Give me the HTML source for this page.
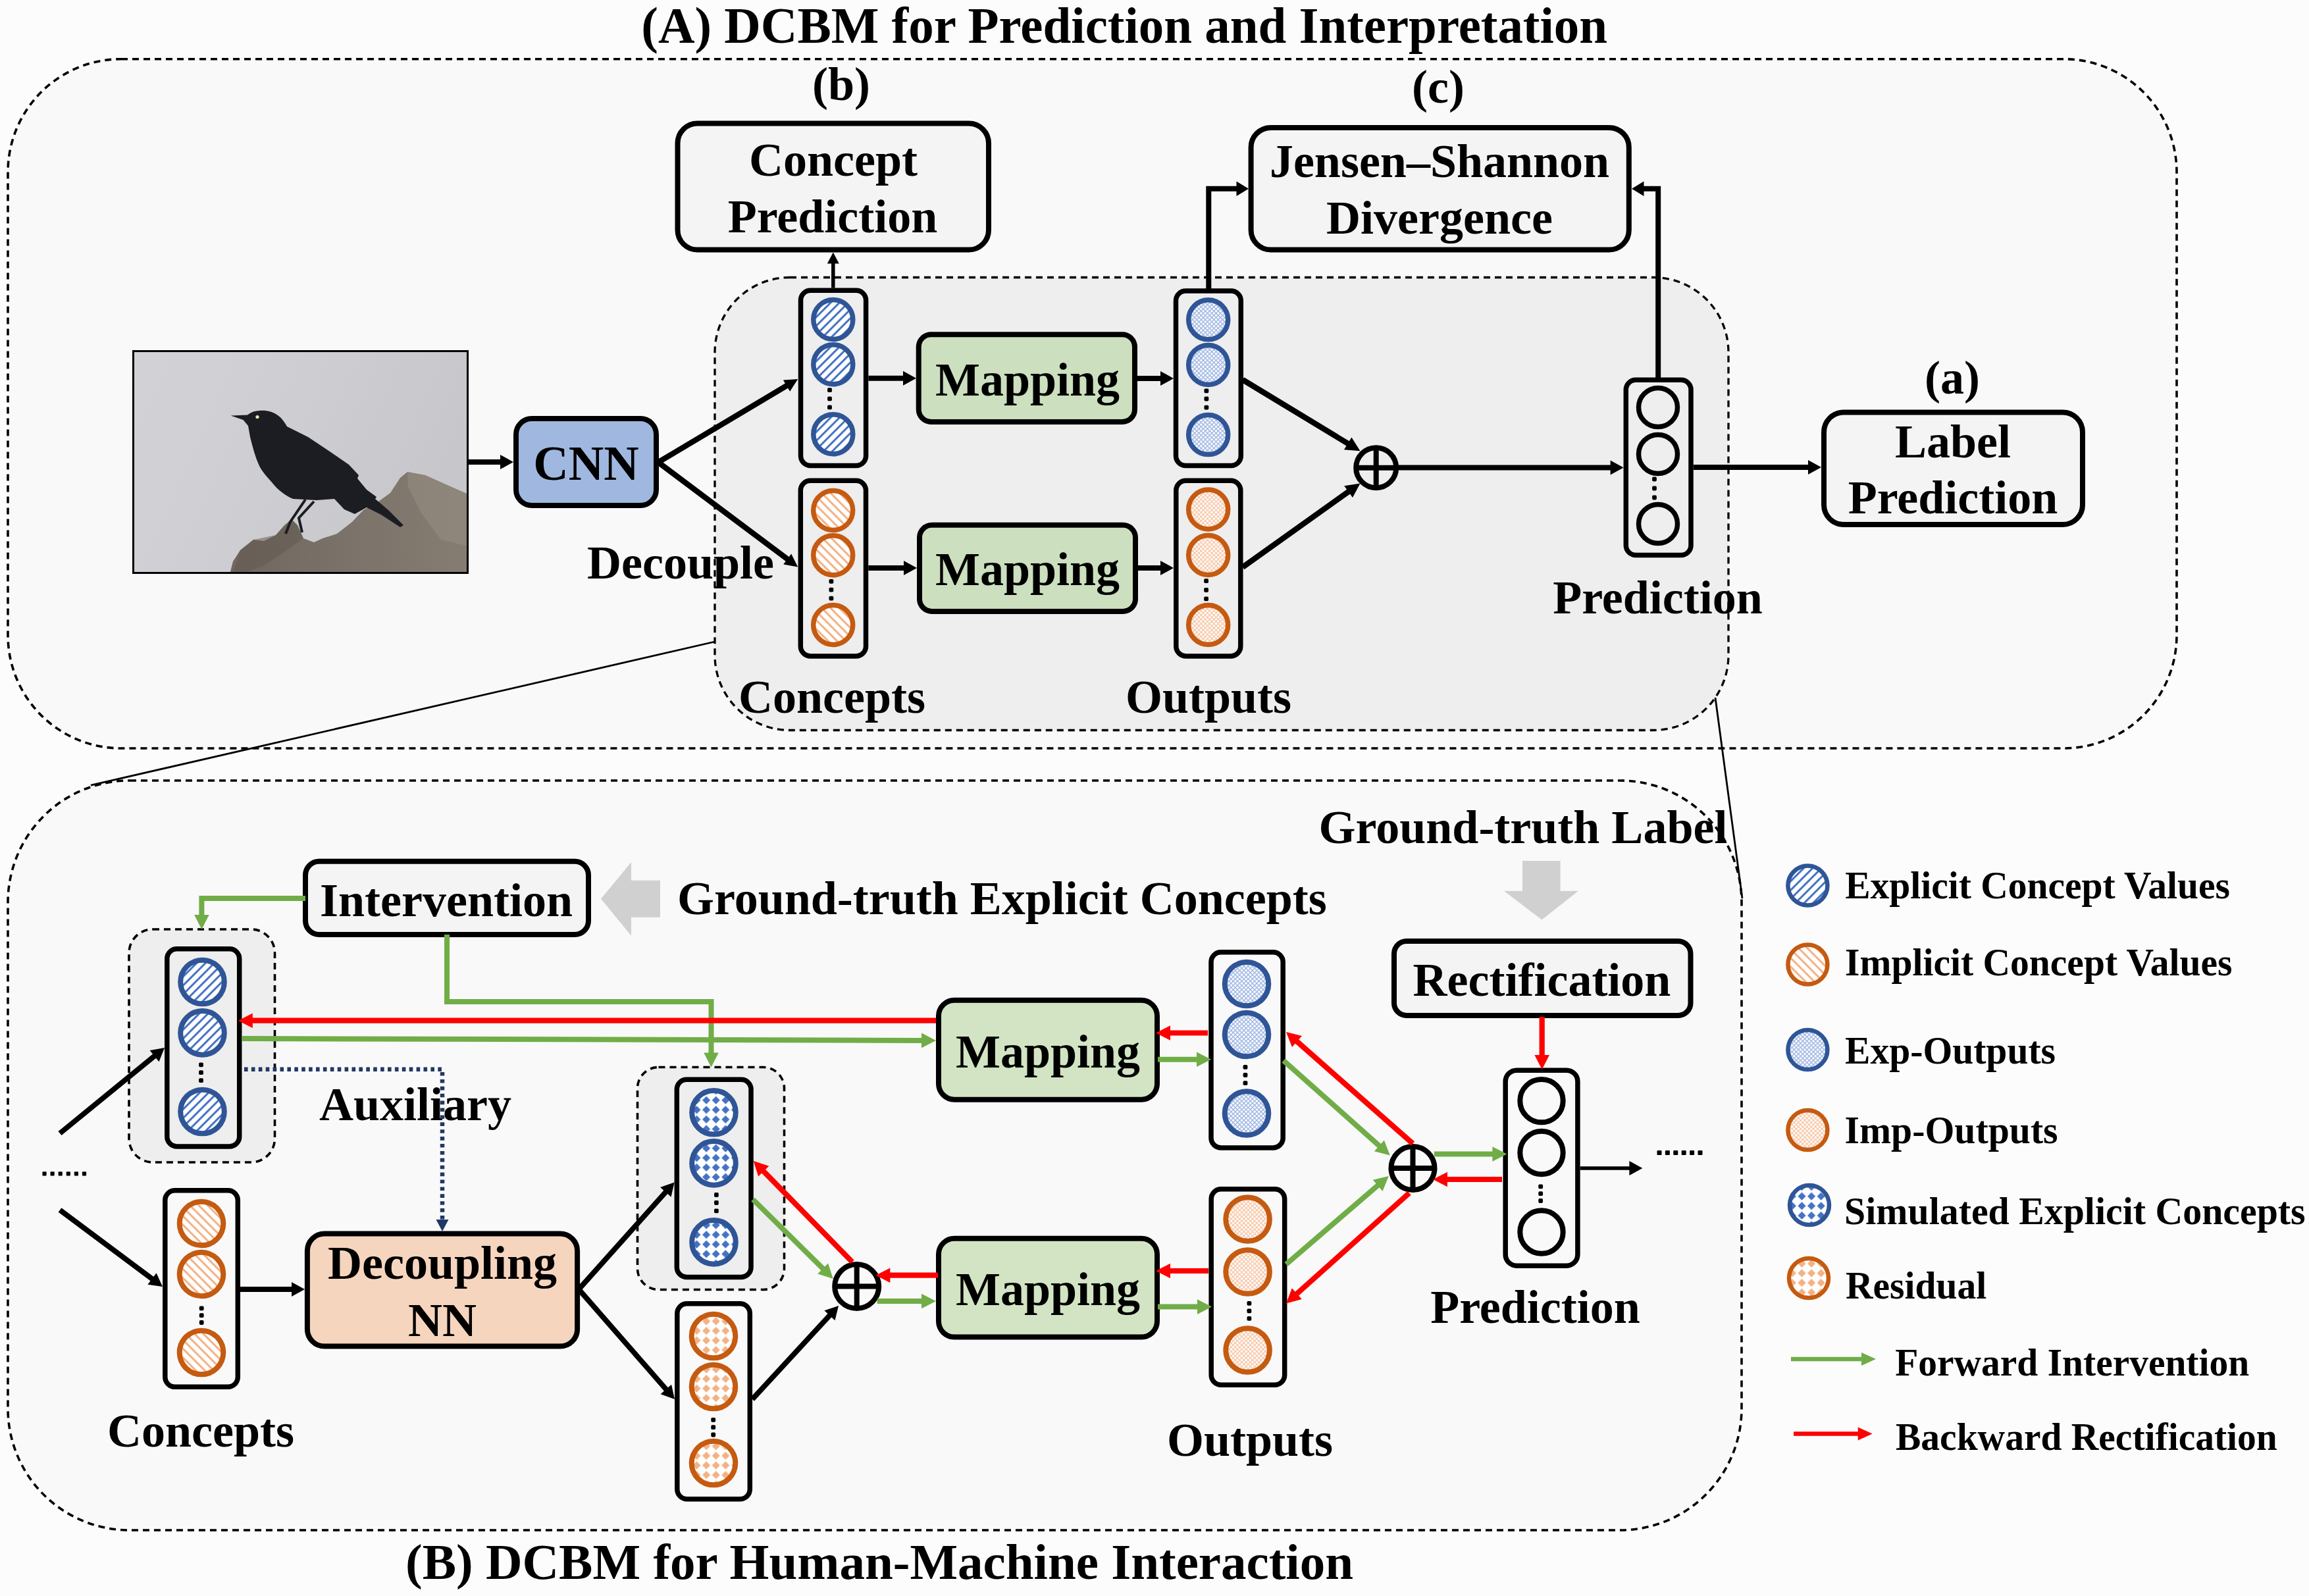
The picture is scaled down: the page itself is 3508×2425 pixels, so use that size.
<!DOCTYPE html>
<html><head><meta charset="utf-8"><style>
html,body{margin:0;padding:0;width:3508px;height:2425px;overflow:hidden;background:#fcfcfc}
text{font-family:"Liberation Serif",serif}
</style></head><body>
<svg width="3508" height="2425" viewBox="0 0 3508 2425" style="display:block;font-family:'Liberation Serif',serif">
<defs>
 <pattern id="hatchB" patternUnits="userSpaceOnUse" width="9.5" height="9.5" patternTransform="rotate(45)">
  <rect width="9.5" height="9.5" fill="#fff"/><rect x="0" y="0" width="3" height="9.5" fill="#4472c4"/>
 </pattern>
 <pattern id="hatchO" patternUnits="userSpaceOnUse" width="9.5" height="9.5" patternTransform="rotate(-45)">
  <rect width="9.5" height="9.5" fill="#fff"/><rect x="0" y="0" width="3" height="9.5" fill="#f4b183"/>
 </pattern>
 <pattern id="crossB" patternUnits="userSpaceOnUse" width="4.6" height="4.6" patternTransform="rotate(45)">
  <rect width="4.6" height="4.6" fill="#fff"/><rect x="0" y="0" width="1.4" height="4.6" fill="#9db5e2"/><rect x="0" y="0" width="4.6" height="1.4" fill="#9db5e2"/>
 </pattern>
 <pattern id="crossO" patternUnits="userSpaceOnUse" width="4.6" height="4.6" patternTransform="rotate(45)">
  <rect width="4.6" height="4.6" fill="#fff"/><rect x="0" y="0" width="1.4" height="4.6" fill="#f6c6a6"/><rect x="0" y="0" width="4.6" height="1.4" fill="#f6c6a6"/>
 </pattern>
 <pattern id="diaB" patternUnits="userSpaceOnUse" width="14.6" height="14.6">
  <rect width="14.6" height="14.6" fill="#fff"/><polygon points="7.3,1.2 13.4,7.3 7.3,13.4 1.2,7.3" fill="#4472c4"/>
 </pattern>
 <pattern id="diaO" patternUnits="userSpaceOnUse" width="14.6" height="14.6">
  <rect width="14.6" height="14.6" fill="#fff"/><polygon points="7.3,1.2 13.4,7.3 7.3,13.4 1.2,7.3" fill="#f4b183"/>
 </pattern>
 <linearGradient id="sky" x1="0" y1="0" x2="1" y2="0.3">
  <stop offset="0" stop-color="#d3d2d7"/><stop offset="0.6" stop-color="#cdcdd1"/><stop offset="1" stop-color="#c7c7cb"/>
 </linearGradient>
 <linearGradient id="wood" x1="0" y1="0" x2="1" y2="0">
  <stop offset="0" stop-color="#6f665e"/><stop offset="0.5" stop-color="#7b7269"/><stop offset="1" stop-color="#857c72"/>
 </linearGradient>
</defs>

<rect x="0" y="0" width="3508" height="2425" fill="#fcfcfc"/>
<text x="974.3" y="65.0" font-size="78" font-weight="bold" textLength="1467.8" lengthAdjust="spacingAndGlyphs">(A) DCBM for Prediction and Interpretation</text>
<rect x="12.0" y="89.7" width="3295.0" height="1047.3" rx="172" fill="#f9f9f9" stroke="#000" stroke-width="3.6" stroke-dasharray="10 7"/>
<rect x="12.0" y="1186.0" width="2634.0" height="1139.0" rx="185" fill="#f9f9f9" stroke="#000" stroke-width="3.6" stroke-dasharray="10 7"/>
<rect x="1086.0" y="421.5" width="1540.0" height="688.0" rx="114" fill="#eeeeee" stroke="#000" stroke-width="3.3" stroke-dasharray="10 7"/>
<line x1="1086" y1="975" x2="138" y2="1193.2" stroke="#000" stroke-width="2.8"/>
<line x1="2606" y1="1060" x2="2647" y2="1365" stroke="#000" stroke-width="2.8"/>
<g transform="translate(200,530)">
<rect x="2" y="3" width="509" height="338" fill="url(#sky)"/>
<polygon points="149.4,341 154,323 165,306 185,290 201,292 219,283 232,268 243,259 252,268 261,288 277,294 290,288 312,281 335,263 352,245 375,232 393,219 408,196 419,187 446,192 475,205 509,220 511,341" fill="url(#wood)"/>
<polygon points="419,187 446,192 475,205 509,220 511,300 470,290 440,250 420,210" fill="#978e84" opacity="0.55"/>
<polygon points="185,290 219,283 243,259 252,268 261,288 230,310 200,330 170,341 154,341 165,306" fill="#5f5750" opacity="0.5"/>
<path d="M150.6,101.5 L176,100.4 C182,96 188,94 194,94 C204,93 214,95 222,101 C228,105 232,111 236,118 L268,134 L301,156 L330,176 L345,192 L343,197 L357,214 L372,225 L370,228 L390,245 L413,268 L408,271 L379,252 L357,241 L339,251 L323,244 L308,228 L281,230 L245,228 C232,222 222,214 214,204 C205,194 198,186 194,178 C188,165 184,150 180,134 L177,117 L169.5,108 Z" fill="#1c1d23"/>
<path d="M264,229 L241,263 L234,281 M277,232 L254,257 L259,279" stroke="#1c1d23" stroke-width="4" fill="none"/>
<circle cx="191" cy="103.5" r="2.6" fill="#e8e6b8"/>
</g>
<rect x="202.5" y="533.5" width="508" height="337" fill="none" stroke="#000" stroke-width="3"/>
<line x1="711.0" y1="702.0" x2="762.0" y2="702.0" stroke="#000" stroke-width="8"/>
<polygon points="780.0,702.0 760.0,713.0 760.0,691.0" fill="#000"/>
<rect x="784.0" y="636.0" width="213.0" height="132.0" rx="24" fill="#a0b8e0" stroke="#000" stroke-width="8"/>
<text x="890.5" y="729.0" font-size="74" text-anchor="middle" font-weight="bold">CNN</text>
<line x1="1000.0" y1="702.4" x2="1196.7" y2="585.2" stroke="#000" stroke-width="8.5"/>
<polygon points="1212.2,576.0 1200.1,594.8 1189.9,577.6" fill="#000"/>
<line x1="1000.0" y1="702.4" x2="1197.8" y2="850.7" stroke="#000" stroke-width="8.5"/>
<polygon points="1212.2,861.5 1190.2,857.5 1202.2,841.5" fill="#000"/>
<text x="892.0" y="879.0" font-size="72" text-anchor="start" font-weight="bold">Decouple</text>
<rect x="1029.5" y="187.6" width="472.5" height="191.9" rx="30" fill="#f4f4f4" stroke="#000" stroke-width="8"/>
<text x="1266.0" y="267.0" font-size="72" text-anchor="middle" font-weight="bold">Concept</text>
<text x="1265.0" y="353.2" font-size="72" text-anchor="middle" font-weight="bold">Prediction</text>
<text x="1278.0" y="151.5" font-size="72" text-anchor="middle" font-weight="bold">(b)</text>
<line x1="1265.8" y1="437.5" x2="1265.8" y2="398.5" stroke="#000" stroke-width="5.5"/>
<polygon points="1265.8,383.5 1274.8,400.5 1256.8,400.5" fill="#000"/>
<rect x="1900.6" y="193.9" width="574.2" height="185.6" rx="30" fill="#f4f4f4" stroke="#000" stroke-width="8"/>
<text x="2187.0" y="268.6" font-size="72" text-anchor="middle" font-weight="bold">Jensen–Shannon</text>
<text x="2187.0" y="354.5" font-size="72" text-anchor="middle" font-weight="bold">Divergence</text>
<text x="2185.0" y="156.0" font-size="72" text-anchor="middle" font-weight="bold">(c)</text>
<polyline points="1836.3,438.0 1836.3,286.7 1880.5,286.7" fill="none" stroke="#000" stroke-width="8" stroke-linejoin="miter" stroke-linecap="square"/>
<polygon points="1897.0,286.7 1878.5,298.0 1878.5,275.4" fill="#000"/>
<polyline points="2519.2,573.5 2519.2,286.7 2495.5,286.7" fill="none" stroke="#000" stroke-width="8" stroke-linejoin="miter" stroke-linecap="square"/>
<polygon points="2479.0,286.7 2497.5,275.4 2497.5,298.0" fill="#000"/>
<rect x="1216.5" y="441.2" width="99.1" height="266.4" rx="15" fill="none" stroke="#000" stroke-width="7.5"/>
<circle cx="1265.8" cy="485.5" r="30.0" fill="url(#hatchB)" stroke="#2f5597" stroke-width="7.5"/>
<circle cx="1265.8" cy="553.7" r="30.0" fill="url(#hatchB)" stroke="#2f5597" stroke-width="7.5"/>
<circle cx="1265.8" cy="659.7" r="30.0" fill="url(#hatchB)" stroke="#2f5597" stroke-width="7.5"/>
<rect x="1257.1" y="589.2" width="6.8" height="6.8" rx="1.8" fill="#000"/>
<rect x="1257.1" y="602.4" width="6.8" height="6.8" rx="1.8" fill="#000"/>
<rect x="1257.1" y="615.5" width="6.8" height="6.8" rx="1.8" fill="#000"/>
<rect x="1216.3" y="730.2" width="99.2" height="266.7" rx="15" fill="none" stroke="#000" stroke-width="7.5"/>
<circle cx="1265.7" cy="775.5" r="30.0" fill="url(#hatchO)" stroke="#c55a11" stroke-width="7.5"/>
<circle cx="1265.7" cy="843.7" r="30.0" fill="url(#hatchO)" stroke="#c55a11" stroke-width="7.5"/>
<circle cx="1265.7" cy="949.5" r="30.0" fill="url(#hatchO)" stroke="#c55a11" stroke-width="7.5"/>
<rect x="1259.5" y="879.9" width="6.8" height="6.8" rx="1.8" fill="#000"/>
<rect x="1259.5" y="892.8" width="6.8" height="6.8" rx="1.8" fill="#000"/>
<rect x="1259.5" y="905.8" width="6.8" height="6.8" rx="1.8" fill="#000"/>
<rect x="1786.5" y="441.9" width="98.8" height="265.7" rx="15" fill="none" stroke="#000" stroke-width="7.5"/>
<circle cx="1835.7" cy="485.8" r="30.0" fill="url(#crossB)" stroke="#2f5597" stroke-width="7.5"/>
<circle cx="1835.7" cy="554.4" r="30.0" fill="url(#crossB)" stroke="#2f5597" stroke-width="7.5"/>
<circle cx="1835.7" cy="660.6" r="30.0" fill="url(#crossB)" stroke="#2f5597" stroke-width="7.5"/>
<rect x="1829.5" y="590.5" width="6.8" height="6.8" rx="1.8" fill="#000"/>
<rect x="1829.5" y="602.6" width="6.8" height="6.8" rx="1.8" fill="#000"/>
<rect x="1829.5" y="615.8" width="6.8" height="6.8" rx="1.8" fill="#000"/>
<rect x="1786.8" y="730.2" width="98.0" height="266.7" rx="15" fill="none" stroke="#000" stroke-width="7.5"/>
<circle cx="1835.7" cy="774.0" r="30.0" fill="url(#crossO)" stroke="#c55a11" stroke-width="7.5"/>
<circle cx="1835.7" cy="843.5" r="30.0" fill="url(#crossO)" stroke="#c55a11" stroke-width="7.5"/>
<circle cx="1835.7" cy="949.5" r="30.0" fill="url(#crossO)" stroke="#c55a11" stroke-width="7.5"/>
<rect x="1829.2" y="879.3" width="6.8" height="6.8" rx="1.8" fill="#000"/>
<rect x="1829.2" y="893.1" width="6.8" height="6.8" rx="1.8" fill="#000"/>
<rect x="1829.2" y="906.4" width="6.8" height="6.8" rx="1.8" fill="#000"/>
<rect x="1395.7" y="508.2" width="328.3" height="132.8" rx="19" fill="#ccdfbf" stroke="#000" stroke-width="8"/>
<text x="1561.0" y="601.0" font-size="72" text-anchor="middle" font-weight="bold">Mapping</text>
<rect x="1397.0" y="797.8" width="328.0" height="131.2" rx="19" fill="#ccdfbf" stroke="#000" stroke-width="8"/>
<text x="1561.0" y="889.0" font-size="72" text-anchor="middle" font-weight="bold">Mapping</text>
<line x1="1319.4" y1="574.7" x2="1374.0" y2="574.7" stroke="#000" stroke-width="8"/>
<polygon points="1392.0,574.7 1372.0,585.7 1372.0,563.7" fill="#000"/>
<line x1="1319.3" y1="863.0" x2="1375.0" y2="863.0" stroke="#000" stroke-width="8"/>
<polygon points="1393.0,863.0 1373.0,874.0 1373.0,852.0" fill="#000"/>
<line x1="1728.0" y1="575.0" x2="1765.0" y2="575.0" stroke="#000" stroke-width="8"/>
<polygon points="1783.0,575.0 1763.0,586.0 1763.0,564.0" fill="#000"/>
<line x1="1729.0" y1="863.0" x2="1765.0" y2="863.0" stroke="#000" stroke-width="8"/>
<polygon points="1783.0,863.0 1763.0,874.0 1763.0,852.0" fill="#000"/>
<circle cx="2090.7" cy="710.7" r="30.5" fill="none" stroke="#000" stroke-width="8"/>
<line x1="2060.2" y1="710.7" x2="2121.2" y2="710.7" stroke="#000" stroke-width="8"/>
<line x1="2090.7" y1="680.2" x2="2090.7" y2="741.2" stroke="#000" stroke-width="8"/>
<line x1="1888.0" y1="577.0" x2="2049.4" y2="674.9" stroke="#000" stroke-width="8.5"/>
<polygon points="2066.5,685.3 2042.0,683.3 2053.4,664.5" fill="#000"/>
<line x1="1888.0" y1="861.7" x2="2050.2" y2="746.0" stroke="#000" stroke-width="8.5"/>
<polygon points="2066.5,734.4 2055.0,756.1 2042.2,738.2" fill="#000"/>
<line x1="2125.0" y1="710.5" x2="2448.6" y2="710.5" stroke="#000" stroke-width="8"/>
<polygon points="2466.6,710.5 2446.6,721.5 2446.6,699.5" fill="#000"/>
<rect x="2470.3" y="577.2" width="98.7" height="266.3" rx="15" fill="none" stroke="#000" stroke-width="7.5"/>
<circle cx="2519.0" cy="619.0" r="29.5" fill="none" stroke="#000" stroke-width="7.5"/>
<circle cx="2519.0" cy="690.0" r="29.5" fill="none" stroke="#000" stroke-width="7.5"/>
<circle cx="2519.0" cy="796.0" r="29.5" fill="none" stroke="#000" stroke-width="7.5"/>
<rect x="2510.1" y="724.6" width="6.8" height="6.8" rx="1.8" fill="#000"/>
<rect x="2510.1" y="738.6" width="6.8" height="6.8" rx="1.8" fill="#000"/>
<rect x="2510.1" y="752.6" width="6.8" height="6.8" rx="1.8" fill="#000"/>
<line x1="2572.8" y1="710.0" x2="2749.0" y2="710.0" stroke="#000" stroke-width="8"/>
<polygon points="2767.0,710.0 2747.0,721.0 2747.0,699.0" fill="#000"/>
<rect x="2771.0" y="626.5" width="393.0" height="170.5" rx="30" fill="#f4f4f4" stroke="#000" stroke-width="8"/>
<text x="2967.0" y="694.6" font-size="72" text-anchor="middle" font-weight="bold">Label</text>
<text x="2967.0" y="780.2" font-size="72" text-anchor="middle" font-weight="bold">Prediction</text>
<text x="2966.0" y="598.0" font-size="72" text-anchor="middle" font-weight="bold">(a)</text>
<text x="1122.0" y="1082.6" font-size="72" text-anchor="start" font-weight="bold">Concepts</text>
<text x="1710.0" y="1082.6" font-size="72" text-anchor="start" font-weight="bold">Outputs</text>
<text x="2518.5" y="931.8" font-size="72" text-anchor="middle" font-weight="bold">Prediction</text>
<text x="616.0" y="2399.3" font-size="77" text-anchor="start" font-weight="bold">(B) DCBM for Human-Machine Interaction</text>
<text x="2003.6" y="1280.6" font-size="72" text-anchor="start" font-weight="bold">Ground-truth Label</text>
<polygon points="2313,1308 2370.6,1308 2370.6,1353.7 2398,1353.7 2342.4,1397.5 2285,1353.7 2313,1353.7" fill="#d0d0d0"/>
<rect x="464.0" y="1308.7" width="430.0" height="111.3" rx="21" fill="#f4f4f4" stroke="#000" stroke-width="8"/>
<text x="678.0" y="1391.7" font-size="72" text-anchor="middle" font-weight="bold">Intervention</text>
<polygon points="913,1365.7 959,1310 959,1337.8 1003,1337.8 1003,1393.7 959,1393.7 959,1421.7" fill="#d0d0d0"/>
<text x="1029.0" y="1388.5" font-size="72" text-anchor="start" font-weight="bold">Ground-truth Explicit Concepts</text>
<rect x="196.0" y="1412.0" width="221.5" height="354.0" rx="36" fill="#eeeeee" stroke="#000" stroke-width="3.6" stroke-dasharray="10 7"/>
<rect x="968.5" y="1621.5" width="223.0" height="338.0" rx="32" fill="#eeeeee" stroke="#000" stroke-width="3.6" stroke-dasharray="10 7"/>
<rect x="253.8" y="1441.8" width="109.9" height="300.1" rx="15" fill="none" stroke="#000" stroke-width="7.5"/>
<circle cx="307.5" cy="1492.0" r="33.3" fill="url(#hatchB)" stroke="#2f5597" stroke-width="8"/>
<circle cx="307.5" cy="1569.4" r="33.3" fill="url(#hatchB)" stroke="#2f5597" stroke-width="8"/>
<circle cx="307.5" cy="1689.0" r="33.3" fill="url(#hatchB)" stroke="#2f5597" stroke-width="8"/>
<rect x="302.1" y="1614.4" width="6.8" height="6.8" rx="1.8" fill="#000"/>
<rect x="302.1" y="1626.3" width="6.8" height="6.8" rx="1.8" fill="#000"/>
<rect x="302.1" y="1638.2" width="6.8" height="6.8" rx="1.8" fill="#000"/>
<rect x="250.8" y="1808.8" width="110.5" height="298.5" rx="15" fill="none" stroke="#000" stroke-width="7.5"/>
<circle cx="306.0" cy="1859.0" r="33.3" fill="url(#hatchO)" stroke="#c55a11" stroke-width="8"/>
<circle cx="306.0" cy="1936.0" r="33.3" fill="url(#hatchO)" stroke="#c55a11" stroke-width="8"/>
<circle cx="306.0" cy="2055.0" r="33.3" fill="url(#hatchO)" stroke="#c55a11" stroke-width="8"/>
<rect x="302.8" y="1984.5" width="6.8" height="6.8" rx="1.8" fill="#000"/>
<rect x="302.8" y="1995.3" width="6.8" height="6.8" rx="1.8" fill="#000"/>
<rect x="302.8" y="2006.1" width="6.8" height="6.8" rx="1.8" fill="#000"/>
<rect x="1028.3" y="1640.2" width="112.7" height="300.2" rx="15" fill="none" stroke="#000" stroke-width="7.5"/>
<circle cx="1084.5" cy="1690.3" r="33.3" fill="url(#diaB)" stroke="#2f5597" stroke-width="8"/>
<circle cx="1084.5" cy="1767.4" r="33.3" fill="url(#diaB)" stroke="#2f5597" stroke-width="8"/>
<circle cx="1084.5" cy="1887.4" r="33.3" fill="url(#diaB)" stroke="#2f5597" stroke-width="8"/>
<rect x="1085.0" y="1812.1" width="6.8" height="6.8" rx="1.8" fill="#000"/>
<rect x="1085.0" y="1824.1" width="6.8" height="6.8" rx="1.8" fill="#000"/>
<rect x="1085.0" y="1836.5" width="6.8" height="6.8" rx="1.8" fill="#000"/>
<rect x="1028.8" y="1980.8" width="110.5" height="297.0" rx="15" fill="none" stroke="#000" stroke-width="7.5"/>
<circle cx="1084.0" cy="2030.0" r="33.3" fill="url(#diaO)" stroke="#c55a11" stroke-width="8"/>
<circle cx="1084.0" cy="2107.0" r="33.3" fill="url(#diaO)" stroke="#c55a11" stroke-width="8"/>
<circle cx="1084.0" cy="2223.0" r="33.3" fill="url(#diaO)" stroke="#c55a11" stroke-width="8"/>
<rect x="1080.3" y="2154.0" width="6.8" height="6.8" rx="1.8" fill="#000"/>
<rect x="1080.3" y="2165.3" width="6.8" height="6.8" rx="1.8" fill="#000"/>
<rect x="1080.3" y="2176.6" width="6.8" height="6.8" rx="1.8" fill="#000"/>
<rect x="1840.0" y="1446.7" width="109.2" height="297.2" rx="15" fill="none" stroke="#000" stroke-width="7.5"/>
<circle cx="1894.0" cy="1495.0" r="33.3" fill="url(#crossB)" stroke="#2f5597" stroke-width="8"/>
<circle cx="1894.0" cy="1572.0" r="33.3" fill="url(#crossB)" stroke="#2f5597" stroke-width="8"/>
<circle cx="1894.0" cy="1691.5" r="33.3" fill="url(#crossB)" stroke="#2f5597" stroke-width="8"/>
<rect x="1888.6" y="1617.9" width="6.8" height="6.8" rx="1.8" fill="#000"/>
<rect x="1888.6" y="1630.1" width="6.8" height="6.8" rx="1.8" fill="#000"/>
<rect x="1888.6" y="1642.3" width="6.8" height="6.8" rx="1.8" fill="#000"/>
<rect x="1840.2" y="1806.8" width="111.5" height="297.5" rx="15" fill="none" stroke="#000" stroke-width="7.5"/>
<circle cx="1895.6" cy="1852.5" r="33.3" fill="url(#crossO)" stroke="#c55a11" stroke-width="8"/>
<circle cx="1895.6" cy="1932.5" r="33.3" fill="url(#crossO)" stroke="#c55a11" stroke-width="8"/>
<circle cx="1895.6" cy="2051.5" r="33.3" fill="url(#crossO)" stroke="#c55a11" stroke-width="8"/>
<rect x="1894.5" y="1977.0" width="6.8" height="6.8" rx="1.8" fill="#000"/>
<rect x="1894.5" y="1988.4" width="6.8" height="6.8" rx="1.8" fill="#000"/>
<rect x="1894.5" y="1999.9" width="6.8" height="6.8" rx="1.8" fill="#000"/>
<rect x="2287.2" y="1626.2" width="109.7" height="297.0" rx="17" fill="none" stroke="#000" stroke-width="7.5"/>
<circle cx="2342.0" cy="1672.6" r="32.7" fill="none" stroke="#000" stroke-width="8"/>
<circle cx="2342.0" cy="1751.5" r="32.7" fill="none" stroke="#000" stroke-width="8"/>
<circle cx="2342.0" cy="1872.0" r="32.7" fill="none" stroke="#000" stroke-width="8"/>
<rect x="2337.3" y="1799.4" width="6.8" height="6.8" rx="1.8" fill="#000"/>
<rect x="2337.3" y="1810.2" width="6.8" height="6.8" rx="1.8" fill="#000"/>
<rect x="2337.3" y="1821.1" width="6.8" height="6.8" rx="1.8" fill="#000"/>
<rect x="466.9" y="1874.5" width="410.2" height="171.1" rx="26" fill="#f6d5be" stroke="#000" stroke-width="8"/>
<text x="672.0" y="1942.9" font-size="72" text-anchor="middle" font-weight="bold">Decoupling</text>
<text x="672.0" y="2029.6" font-size="72" text-anchor="middle" font-weight="bold">NN</text>
<rect x="1426.0" y="1519.7" width="332.0" height="151.0" rx="24" fill="#d2e4c4" stroke="#000" stroke-width="8"/>
<text x="1592.0" y="1622.0" font-size="72" text-anchor="middle" font-weight="bold">Mapping</text>
<rect x="1426.0" y="1881.7" width="332.0" height="149.9" rx="24" fill="#d2e4c4" stroke="#000" stroke-width="8"/>
<text x="1592.0" y="1983.0" font-size="72" text-anchor="middle" font-weight="bold">Mapping</text>
<rect x="2118.0" y="1430.0" width="450.5" height="113.0" rx="19" fill="#f4f4f4" stroke="#000" stroke-width="8"/>
<text x="2342.5" y="1512.7" font-size="72" text-anchor="middle" font-weight="bold">Rectification</text>
<circle cx="1301.7" cy="1954.6" r="33.5" fill="none" stroke="#000" stroke-width="8"/>
<line x1="1268.2" y1="1954.6" x2="1335.2" y2="1954.6" stroke="#000" stroke-width="8"/>
<line x1="1301.7" y1="1921.1" x2="1301.7" y2="1988.1" stroke="#000" stroke-width="8"/>
<circle cx="2146.5" cy="1775.0" r="33.0" fill="none" stroke="#000" stroke-width="8"/>
<line x1="2113.5" y1="1775.0" x2="2179.5" y2="1775.0" stroke="#000" stroke-width="8"/>
<line x1="2146.5" y1="1742.0" x2="2146.5" y2="1808.0" stroke="#000" stroke-width="8"/>
<text x="485.0" y="1702.0" font-size="72" text-anchor="start" font-weight="bold">Auxiliary</text>
<text x="305.0" y="2198.0" font-size="72" text-anchor="middle" font-weight="bold">Concepts</text>
<text x="1899.0" y="2211.5" font-size="72" text-anchor="middle" font-weight="bold">Outputs</text>
<text x="2332.5" y="2010.0" font-size="72" text-anchor="middle" font-weight="bold">Prediction</text>
<rect x="64.4" y="1780.2" width="6.2" height="6.2" rx="1" fill="#000"/>
<rect x="76.5" y="1780.2" width="6.2" height="6.2" rx="1" fill="#000"/>
<rect x="88.6" y="1780.2" width="6.2" height="6.2" rx="1" fill="#000"/>
<rect x="100.7" y="1780.2" width="6.2" height="6.2" rx="1" fill="#000"/>
<rect x="112.8" y="1780.2" width="6.2" height="6.2" rx="1" fill="#000"/>
<rect x="124.9" y="1780.2" width="6.2" height="6.2" rx="1" fill="#000"/>
<rect x="2517.5" y="1748.0" width="7" height="7" rx="1" fill="#000"/>
<rect x="2529.9" y="1748.0" width="7" height="7" rx="1" fill="#000"/>
<rect x="2542.3" y="1748.0" width="7" height="7" rx="1" fill="#000"/>
<rect x="2554.7" y="1748.0" width="7" height="7" rx="1" fill="#000"/>
<rect x="2567.1" y="1748.0" width="7" height="7" rx="1" fill="#000"/>
<rect x="2579.5" y="1748.0" width="7" height="7" rx="1" fill="#000"/>
<line x1="91.0" y1="1722.0" x2="236.1" y2="1603.4" stroke="#000" stroke-width="8"/>
<polygon points="250.0,1592.0 241.5,1613.2 227.6,1596.1" fill="#000"/>
<line x1="91.0" y1="1838.5" x2="232.6" y2="1944.2" stroke="#000" stroke-width="8"/>
<polygon points="247.0,1955.0 224.4,1951.8 237.6,1934.2" fill="#000"/>
<line x1="365.0" y1="1959.0" x2="445.0" y2="1959.0" stroke="#000" stroke-width="8"/>
<polygon points="463.0,1959.0 443.0,1970.0 443.0,1948.0" fill="#000"/>
<line x1="879.3" y1="1959.0" x2="1012.6" y2="1809.9" stroke="#000" stroke-width="8"/>
<polygon points="1024.6,1796.5 1019.5,1818.7 1003.1,1804.1" fill="#000"/>
<line x1="879.3" y1="1959.0" x2="1013.2" y2="2112.4" stroke="#000" stroke-width="8"/>
<polygon points="1025.0,2126.0 1003.6,2118.2 1020.1,2103.7" fill="#000"/>
<line x1="1143.0" y1="2126.0" x2="1261.8" y2="1997.2" stroke="#000" stroke-width="8"/>
<polygon points="1274.0,1984.0 1268.5,2006.2 1252.4,1991.2" fill="#000"/>
<line x1="2400.7" y1="1775.0" x2="2477.4" y2="1775.0" stroke="#000" stroke-width="5.5"/>
<polygon points="2495.4,1775.0 2475.4,1786.0 2475.4,1764.0" fill="#000"/>
<polyline points="460.0,1365.0 306.4,1365.0 306.4,1392.0" fill="none" stroke="#70ad47" stroke-width="8" stroke-linejoin="miter" stroke-linecap="square"/>
<polygon points="306.4,1412.0 295.1,1390.0 317.7,1390.0" fill="#70ad47"/>
<polyline points="679.0,1424.0 679.0,1522.0 1080.5,1522.0 1080.5,1601.5" fill="none" stroke="#70ad47" stroke-width="8" stroke-linejoin="miter" stroke-linecap="square"/>
<polygon points="1080.5,1621.5 1069.2,1599.5 1091.8,1599.5" fill="#70ad47"/>
<line x1="1422.0" y1="1550.7" x2="381.8" y2="1550.7" stroke="#ff0000" stroke-width="8.2"/>
<polygon points="361.8,1550.7 383.8,1539.4 383.8,1562.0" fill="#ff0000"/>
<line x1="367.4" y1="1578.0" x2="1402.0" y2="1580.9" stroke="#70ad47" stroke-width="8"/>
<polygon points="1422.0,1581.0 1400.0,1592.2 1400.0,1569.6" fill="#70ad47"/>
<polyline points="371.0,1624.8 672.0,1624.8 672.0,1855.0" fill="none" stroke="#203864" stroke-width="6.5" stroke-linejoin="miter" stroke-dasharray="5.6 5.3" stroke-linecap="butt"/>
<polygon points="672.0,1871.0 662.5,1853.0 681.5,1853.0" fill="#203864"/>
<line x1="1835.0" y1="1569.5" x2="1776.0" y2="1569.5" stroke="#ff0000" stroke-width="8.2"/>
<polygon points="1756.0,1569.5 1778.0,1558.2 1778.0,1580.8" fill="#ff0000"/>
<line x1="1759.0" y1="1609.7" x2="1820.0" y2="1609.7" stroke="#70ad47" stroke-width="8"/>
<polygon points="1840.0,1609.7 1818.0,1621.0 1818.0,1598.4" fill="#70ad47"/>
<line x1="1836.0" y1="1931.0" x2="1776.0" y2="1931.0" stroke="#ff0000" stroke-width="8.2"/>
<polygon points="1756.0,1931.0 1778.0,1919.7 1778.0,1942.3" fill="#ff0000"/>
<line x1="1759.0" y1="1985.6" x2="1821.0" y2="1985.6" stroke="#70ad47" stroke-width="8"/>
<polygon points="1841.0,1985.6 1819.0,1996.9 1819.0,1974.3" fill="#70ad47"/>
<line x1="1425.0" y1="1937.7" x2="1350.4" y2="1937.7" stroke="#ff0000" stroke-width="8.2"/>
<polygon points="1330.4,1937.7 1352.4,1926.4 1352.4,1949.0" fill="#ff0000"/>
<line x1="1332.7" y1="1977.0" x2="1402.0" y2="1977.0" stroke="#70ad47" stroke-width="8"/>
<polygon points="1422.0,1977.0 1400.0,1988.3 1400.0,1965.7" fill="#70ad47"/>
<line x1="1294.8" y1="1917.5" x2="1158.8" y2="1778.3" stroke="#ff0000" stroke-width="8.2"/>
<polygon points="1144.8,1764.0 1168.3,1771.8 1152.1,1787.6" fill="#ff0000"/>
<line x1="1144.0" y1="1822.5" x2="1251.6" y2="1928.9" stroke="#70ad47" stroke-width="8"/>
<polygon points="1265.8,1943.0 1242.2,1935.6 1258.1,1919.5" fill="#70ad47"/>
<line x1="2146.5" y1="1737.7" x2="1969.0" y2="1581.2" stroke="#ff0000" stroke-width="8.2"/>
<polygon points="1954.0,1568.0 1978.0,1574.1 1963.0,1591.0" fill="#ff0000"/>
<line x1="1950.0" y1="1611.4" x2="2096.9" y2="1742.2" stroke="#70ad47" stroke-width="8"/>
<polygon points="2111.8,1755.5 2087.9,1749.3 2102.9,1732.4" fill="#70ad47"/>
<line x1="1954.0" y1="1921.0" x2="2094.6" y2="1800.0" stroke="#70ad47" stroke-width="8"/>
<polygon points="2109.8,1787.0 2100.5,1809.9 2085.8,1792.8" fill="#70ad47"/>
<line x1="2141.0" y1="1812.7" x2="1968.9" y2="1967.0" stroke="#ff0000" stroke-width="8.2"/>
<polygon points="1954.0,1980.4 1962.8,1957.3 1977.9,1974.1" fill="#ff0000"/>
<line x1="2178.9" y1="1753.5" x2="2269.4" y2="1753.5" stroke="#70ad47" stroke-width="8"/>
<polygon points="2289.4,1753.5 2267.4,1764.8 2267.4,1742.2" fill="#70ad47"/>
<line x1="2282.0" y1="1792.0" x2="2197.0" y2="1792.0" stroke="#ff0000" stroke-width="8.2"/>
<polygon points="2177.0,1792.0 2199.0,1780.7 2199.0,1803.3" fill="#ff0000"/>
<line x1="2342.7" y1="1545.0" x2="2342.7" y2="1605.0" stroke="#ff0000" stroke-width="8.2"/>
<polygon points="2342.7,1625.0 2331.4,1603.0 2354.0,1603.0" fill="#ff0000"/>
<circle cx="2746.4" cy="1345.6" r="30.0" fill="url(#hatchB)" stroke="#2f5597" stroke-width="6.5"/>
<text x="2803.2" y="1365.0" font-size="60" font-weight="bold" textLength="584.8" lengthAdjust="spacingAndGlyphs">Explicit Concept Values</text>
<circle cx="2746.4" cy="1465.5" r="30.0" fill="url(#hatchO)" stroke="#c55a11" stroke-width="6.5"/>
<text x="2803.1" y="1481.5" font-size="60" font-weight="bold" textLength="588.3" lengthAdjust="spacingAndGlyphs">Implicit Concept Values</text>
<circle cx="2746.4" cy="1595.0" r="30.0" fill="url(#crossB)" stroke="#2f5597" stroke-width="6.5"/>
<text x="2803.0" y="1616.0" font-size="60" font-weight="bold" textLength="320.0" lengthAdjust="spacingAndGlyphs">Exp-Outputs</text>
<circle cx="2746.4" cy="1717.0" r="30.0" fill="url(#crossO)" stroke="#c55a11" stroke-width="6.5"/>
<text x="2802.5" y="1736.5" font-size="60" font-weight="bold" textLength="324.1" lengthAdjust="spacingAndGlyphs">Imp-Outputs</text>
<circle cx="2749.0" cy="1831.0" r="30.0" fill="url(#diaB)" stroke="#2f5597" stroke-width="6.5"/>
<text x="2802.1" y="1860.0" font-size="60" font-weight="bold" textLength="700.5" lengthAdjust="spacingAndGlyphs">Simulated Explicit Concepts</text>
<circle cx="2748.0" cy="1942.0" r="30.0" fill="url(#diaO)" stroke="#c55a11" stroke-width="6.5"/>
<text x="2804.0" y="1972.5" font-size="60" font-weight="bold" textLength="214.3" lengthAdjust="spacingAndGlyphs">Residual</text>
<line x1="2721.0" y1="2064.9" x2="2830.0" y2="2064.9" stroke="#70ad47" stroke-width="6.5"/>
<polygon points="2850.0,2064.9 2828.0,2074.9 2828.0,2054.9" fill="#70ad47"/>
<text x="2879.2" y="2089.7" font-size="60" font-weight="bold" textLength="538.0" lengthAdjust="spacingAndGlyphs">Forward Intervention</text>
<line x1="2725.0" y1="2178.6" x2="2824.7" y2="2178.6" stroke="#ff0000" stroke-width="6.5"/>
<polygon points="2844.7,2178.6 2822.7,2188.6 2822.7,2168.6" fill="#ff0000"/>
<text x="2880.0" y="2203.4" font-size="60" font-weight="bold" textLength="579.8" lengthAdjust="spacingAndGlyphs">Backward Rectification</text></svg>
</body></html>
